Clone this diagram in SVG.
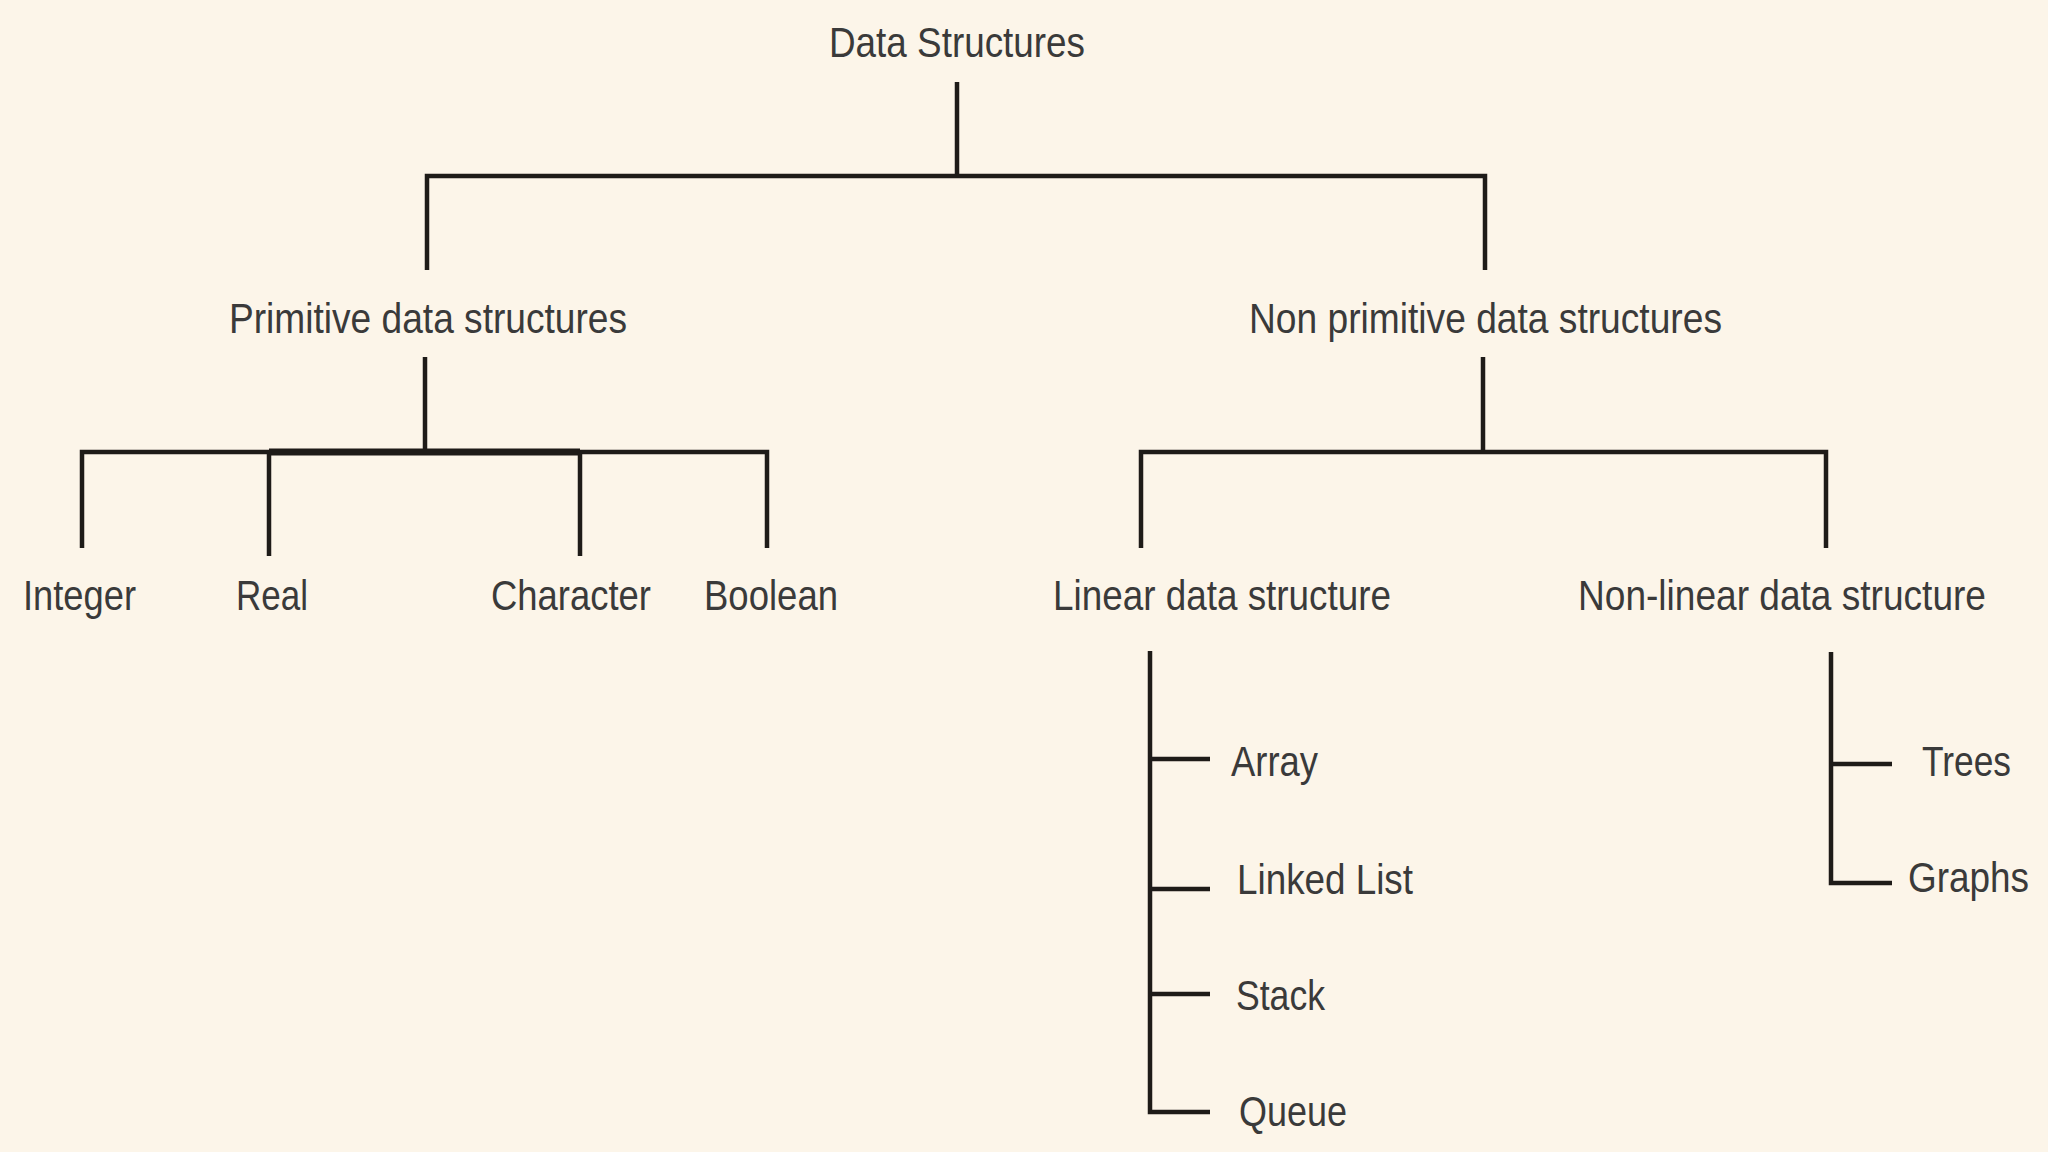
<svg xmlns="http://www.w3.org/2000/svg" width="2048" height="1152" viewBox="0 0 2048 1152">
<style>
.bg{fill:#fcf5e9}
.c{fill:none;stroke:#1e1b18;stroke-width:4.5;stroke-linejoin:miter;stroke-linecap:butt}
.thick{stroke-width:7}
.t{font-family:"Liberation Sans",Arial,sans-serif;font-size:42px;fill:#3a3a3a}
</style>
<rect class="bg" x="0" y="0" width="2048" height="1152"/>
<g id="connectors">
<path class="c" d="M957 82V176"/>
<path class="c" d="M427 270V176H1485V270"/>
<path class="c" d="M425 357V452"/>
<path class="c" d="M82 548V452H767V548"/>
<path class="c thick" d="M269 452H580"/>
<path class="c" d="M269 452V556"/>
<path class="c" d="M580 452V556"/>
<path class="c" d="M1483 357V452"/>
<path class="c" d="M1141 548V452H1826V548"/>
<path class="c" d="M1150 651V1112H1210"/>
<path class="c" d="M1150 759H1210"/>
<path class="c" d="M1150 889H1210"/>
<path class="c" d="M1150 994H1210"/>
<path class="c" d="M1831 652V883H1892"/>
<path class="c" d="M1831 764H1892"/>
</g>
<g id="n-root"><text class="t" x="829" y="57" textLength="256" lengthAdjust="spacingAndGlyphs">Data Structures</text></g>
<g id="n-primitive"><text class="t" x="229" y="333" textLength="398" lengthAdjust="spacingAndGlyphs">Primitive data structures</text></g>
<g id="n-nonprimitive"><text class="t" x="1249" y="333" textLength="473" lengthAdjust="spacingAndGlyphs">Non primitive data structures</text></g>
<g id="n-integer"><text class="t" x="23" y="610" textLength="113" lengthAdjust="spacingAndGlyphs">Integer</text></g>
<g id="n-real"><text class="t" x="236" y="610" textLength="72" lengthAdjust="spacingAndGlyphs">Real</text></g>
<g id="n-character"><text class="t" x="491" y="610" textLength="160" lengthAdjust="spacingAndGlyphs">Character</text></g>
<g id="n-boolean"><text class="t" x="704" y="610" textLength="134" lengthAdjust="spacingAndGlyphs">Boolean</text></g>
<g id="n-linear"><text class="t" x="1053" y="610" textLength="338" lengthAdjust="spacingAndGlyphs">Linear data structure</text></g>
<g id="n-nonlinear"><text class="t" x="1578" y="610" textLength="408" lengthAdjust="spacingAndGlyphs">Non-linear data structure</text></g>
<g id="n-array"><text class="t" x="1231" y="776" textLength="87" lengthAdjust="spacingAndGlyphs">Array</text></g>
<g id="n-linkedlist"><text class="t" x="1237" y="894" textLength="176" lengthAdjust="spacingAndGlyphs">Linked List</text></g>
<g id="n-stack"><text class="t" x="1236" y="1010" textLength="89" lengthAdjust="spacingAndGlyphs">Stack</text></g>
<g id="n-queue"><text class="t" x="1239" y="1126" textLength="108" lengthAdjust="spacingAndGlyphs">Queue</text></g>
<g id="n-trees"><text class="t" x="1922" y="776" textLength="89" lengthAdjust="spacingAndGlyphs">Trees</text></g>
<g id="n-graphs"><text class="t" x="1908" y="892" textLength="121" lengthAdjust="spacingAndGlyphs">Graphs</text></g>
</svg>
